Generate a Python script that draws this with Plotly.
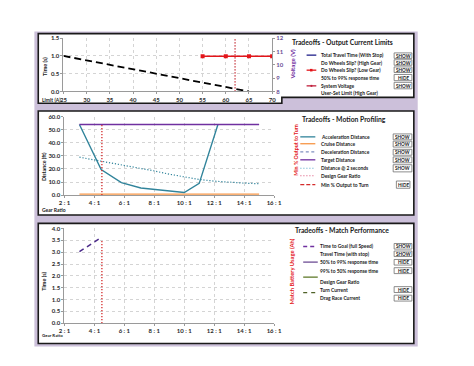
import plotly.graph_objects as go

W, H = 474, 366
def X(p): return p / W
def Y(p): return 1 - p / H

# ---------------- data ----------------
# Panel 1: Output current limits
limit_amps = [25, 45, 65]
travel_time_s = [1.0, 0.5, 0.0]
slip_limit_amps = [55, 60, 65, 70]
slip_voltage = [10.65, 10.65, 10.65, 10.65]
user_limit_amps = 62
limit_ticks = [25, 30, 35, 40, 45, 50, 55, 60, 65, 70]

# Panel 2: Motion profiling
accel_ratio = [3, 4.45, 5.8, 7.1, 10.0, 11.0, 12.25]
accel_dist = [54, 19.5, 9.5, 5.5, 2.0, 9.0, 54]
cruise_ratio = [3, 15]
cruise_dist = [0.8, 0.8]
target_ratio = [3, 15]
target_dist = [54, 54]
dist2s_ratio = [3, 4.5, 6, 8, 9, 10, 11, 12, 13, 14, 15]
dist2s = [29, 26, 23, 18.5, 16, 14, 12, 10.7, 9.8, 9.2, 8.7]
design_ratio = 4.5
gear_ticks = [2, 4, 6, 8, 10, 12, 14, 16]
gear_labels = ["2 : 1", "4 : 1", "6 : 1", "8 : 1", "10 : 1", "12 : 1", "14 : 1", "16 : 1"]

# Panel 3: Match performance
goal_ratio = [3, 4.4]
goal_time = [3.02, 3.6]

FONT = "Lato"
GRID = "#d4d4d4"
AX = "#9a9a9a"
TEAL = "#31849b"
ORANGE = "#f79646"
PURPLE = "#7030a0"
RED = "#e3151a"
LAV = "#ccc0da"
DOT = "1.2px,1.8px"

fig = go.Figure()

# Panel 1 traces
fig.add_trace(go.Scatter(x=limit_amps, y=travel_time_s, mode="lines",
                         line=dict(color="black", width=1.8, dash="7px,4px"),
                         xaxis="x", yaxis="y"))
fig.add_trace(go.Scatter(x=slip_limit_amps, y=slip_voltage, mode="lines+markers",
                         line=dict(color=RED, width=1.5),
                         marker=dict(symbol="square", size=4, color=RED),
                         xaxis="x", yaxis="y2"))
fig.add_trace(go.Scatter(x=[user_limit_amps, user_limit_amps], y=[0, 1.5], mode="lines",
                         line=dict(color="#c0202a", width=1.3, dash=DOT),
                         xaxis="x", yaxis="y"))

# Panel 2 traces
fig.add_trace(go.Scatter(x=cruise_ratio, y=cruise_dist, mode="lines",
                         line=dict(color=ORANGE, width=1.3), xaxis="x2", yaxis="y3"))
fig.add_trace(go.Scatter(x=dist2s_ratio, y=dist2s, mode="lines",
                         line=dict(color=TEAL, width=1.2, dash=DOT), xaxis="x2", yaxis="y3"))
fig.add_trace(go.Scatter(x=accel_ratio, y=accel_dist, mode="lines",
                         line=dict(color=TEAL, width=1.4), xaxis="x2", yaxis="y3"))
fig.add_trace(go.Scatter(x=target_ratio, y=target_dist, mode="lines",
                         line=dict(color=PURPLE, width=1.5), xaxis="x2", yaxis="y3"))
fig.add_trace(go.Scatter(x=[design_ratio, design_ratio], y=[0, 54], mode="lines",
                         line=dict(color="#d42a2a", width=1.3, dash=DOT), xaxis="x2", yaxis="y3"))

# Panel 3 traces
fig.add_trace(go.Scatter(x=goal_ratio, y=goal_time, mode="lines",
                         line=dict(color="#4b2a8a", width=1.5, dash="5px,4px"), xaxis="x3", yaxis="y5"))
fig.add_trace(go.Scatter(x=[design_ratio, design_ratio], y=[0, 3.5], mode="lines",
                         line=dict(color="#d42a2a", width=1.3, dash=DOT), xaxis="x3", yaxis="y5"))

tickf = dict(family=FONT, size=6, color="#2a2a2a", weight="bold")

def xax(domain, anchor, **kw):
    d = dict(domain=domain, anchor=anchor, showgrid=True, gridcolor=GRID, griddash="dot",
             gridwidth=1, showline=True, linecolor=AX, linewidth=1, ticks="outside",
             ticklen=2, tickcolor=AX, tickfont=tickf, zeroline=False, fixedrange=True)
    d.update(kw)
    return d

def yax(domain, anchor, **kw):
    d = dict(domain=domain, anchor=anchor, showgrid=True, gridcolor=GRID, griddash="dot",
             gridwidth=1, showline=True, linecolor=AX, linewidth=1, ticks="outside",
             ticklen=2, tickcolor=AX, tickfont=tickf, zeroline=False, fixedrange=True)
    d.update(kw)
    return d

x2dom = [X(52), X(268)]
fig.update_layout(
    width=W, height=H, margin=dict(l=0, r=0, t=0, b=0),
    paper_bgcolor="white", plot_bgcolor="white", showlegend=False,
    font=dict(family=FONT),
    xaxis=xax([X(51), X(266)], "y", range=[25, 70], tickvals=limit_ticks),
    yaxis=yax([Y(81), Y(26.7)], "x", range=[0, 1.5], dtick=0.5, tickformat=".1f"),
    yaxis2=dict(overlaying="y", side="right", anchor="x", range=[8, 12], dtick=1,
                showgrid=False, showline=True, linecolor=AX, ticks="outside", ticklen=2,
                tickcolor=AX, tickfont=dict(family=FONT, size=6, color="#6a4f96", weight="bold"),
                zeroline=False),
    xaxis2=xax(x2dom, "y3", range=[2, 16], tickvals=gear_ticks, ticktext=gear_labels),
    yaxis3=yax([Y(186.7), Y(106.7)], "x2", range=[0, 60], dtick=10, tickformat=".1f"),
    yaxis4=dict(overlaying="y3", side="right", anchor="x2", range=[0, 0.267],
                tickvals=[0, 0.05, 0.1, 0.15, 0.2, 0.25], tickformat=".0%",
                showgrid=False, showline=True, linecolor=AX, ticks="outside", ticklen=2,
                tickcolor=AX, tickfont=dict(family=FONT, size=6, color=RED, weight="bold"),
                zeroline=False),
    xaxis3=xax(x2dom, "y5", range=[2, 16], tickvals=gear_ticks, ticktext=gear_labels),
    yaxis5=yax([Y(317.3), Y(220.7)], "x3", range=[0, 4], dtick=0.5, tickformat=".1f"),
    yaxis6=dict(overlaying="y5", side="right", anchor="x3", range=[0, 0.6], dtick=0.1,
                tickformat=".1f", showgrid=False, showline=True, linecolor=AX, ticks="outside",
                ticklen=2, tickcolor=AX,
                tickfont=dict(family=FONT, size=6, color=RED, weight="bold"), zeroline=False),
)

shapes = []
annots = []

def prect(x0, y0, x1, y1, **kw):
    shapes.append(dict(type="rect", xref="paper", yref="paper", x0=X(x0), x1=X(x1),
                       y0=Y(y1), y1=Y(y0), layer="below", **kw))

def pline(x0, y0, x1, y1, color, width=1.3, dash="solid"):
    shapes.append(dict(type="line", xref="paper", yref="paper", x0=X(x0), x1=X(x1),
                       y0=Y(y0), y1=Y(y1), line=dict(color=color, width=width, dash=dash)))

def text(x, y, s, size=5, color="#1a1a1a", anchor="left", angle=0, bold=True):
    annots.append(dict(xref="paper", yref="paper", x=X(x), y=Y(y), text=s, showarrow=False,
                       xanchor=anchor if angle == 0 else "center",
                       yanchor="middle", textangle=angle,
                       font=dict(family=FONT, size=size, color=color,
                                 weight="bold" if bold else "normal")))

def button(x0, y0, x1, y1, label):
    shapes.append(dict(type="rect", xref="paper", yref="paper", x0=X(x0), x1=X(x1),
                       y0=Y(y1), y1=Y(y0), line=dict(color="#6f6f6f", width=0.8),
                       fillcolor="white", layer="above"))
    text((x0 + x1) / 2, (y0 + y1) / 2, label, size=4.6, anchor="center")

# backgrounds
prect(21, 20, 416, 341, fillcolor=LAV, line=dict(width=0))
# panel 1 (stepped shape)
p1 = "M{},{} L{},{} L{},{} L{},{} L{},{} L{},{} Z".format(
    X(25), Y(22), X(412), Y(22), X(412), Y(87), X(276), Y(87), X(276), Y(93), X(25), Y(93))
shapes.append(dict(type="path", xref="paper", yref="paper", path=p1, fillcolor="white",
                   line=dict(color="#1a1a1a", width=1.6), layer="below"))
prect(25, 101, 412, 207, fillcolor="white", line=dict(color="#1a1a1a", width=1.6))
prect(25, 215.5, 412, 338, fillcolor="white", line=dict(color="#1a1a1a", width=1.6))

# ---- panel 1 labels / legend ----
text(32, 56, "Time (s)", size=5.5, angle=-90)
text(287, 53, "Voltage (V)", size=6, color="#7030a0", angle=-90)
text(27, 89.5, "Limit (A)", size=5)
text(284, 30.5, "Tradeoffs - Output Current Limits", size=6.8)
rows1 = [44, 51.7, 59.3, 67.3, 75.3, 82.8]
lab1 = ["Total Travel Time (With Stop)", "Do Wheels Slip? (High Gear)", "Do Wheels Slip? (Low Gear)",
        "50% to 99% response time", "System Voltage", "User-Set Limit (High Gear)"]
for r, s in zip(rows1, lab1):
    text(314, r, s, size=4.9)
pline(301.5, rows1[0], 311.5, rows1[0], "#3d3d99", 1.5)
pline(301.5, rows1[2], 311.5, rows1[2], RED, 1.3)
prect(305, rows1[2] - 1.3, 307.6, rows1[2] + 1.3, fillcolor=RED, line=dict(width=0))
pline(301.5, rows1[4], 311.5, rows1[4], "#c0203c", 1.3)
prect(305.6, rows1[4] - 1, 307.4, rows1[4] + 1, fillcolor="#c0203c", line=dict(width=0))
for (y0, y1), lab in zip([(41.7, 47.3), (48.7, 54.3), (56, 61.7), (63.7, 70), (71.7, 78.3)],
                         ["SHOW", "SHOW", "SHOW", "HIDE", "SHOW"]):
    button(391.7, y0, 410, y1, lab)

# ---- panel 2 labels / legend ----
text(31, 158, "Distance (ft)", size=5.3, angle=-90)
text(291, 141, "Min % Output to Turn", size=5.3, color=RED, angle=-90)
text(27, 202, "Gear Ratio", size=5)
text(295, 109, "Tradeoffs - Motion Profiling", size=6.8)
rows2 = [127.3, 134.3, 142.7, 150.7, 159.3, 167, 176]
lab2 = ["Acceleration Distance", "Cruise Distance", "Deceleration Distance", "Target Distance",
        "Distance @ 2 seconds", "Design Gear Ratio", "Min % Output to Turn"]
for r, s in zip(rows2, lab2):
    text(314, r, s, size=4.9)
pline(295, rows2[0], 310.5, rows2[0], TEAL, 1.3)
pline(295, rows2[1], 310.5, rows2[1], ORANGE, 1.3)
pline(295, rows2[2], 310.5, rows2[2], "#8090c0", 1.2, "3px,2.5px")
pline(295, rows2[3], 310.5, rows2[3], PURPLE, 1.3)
pline(295, rows2[4], 310.5, rows2[4], "#6fb6d0", 1.1, DOT)
pline(295, rows2[5], 310.5, rows2[5], "#e06a8c", 1.1, DOT)
pline(295, rows2[6], 310.5, rows2[6], "#d42a2a", 1.4, "4px,2px")
for (y0, y1), lab in zip([(124.3, 130.3), (131.7, 137.7), (140, 146), (147.7, 153.7), (155.7, 163)],
                         ["SHOW"] * 5):
    button(390.7, y0, 410, y1, lab)
button(394, 172.3, 408, 179.7, "HIDE")

# ---- panel 3 labels / legend ----
text(31, 275, "Time (s)", size=5.5, angle=-90)
text(286, 265, "Match Battery Usage (Ah)", size=5.8, color=RED, angle=-90)
text(27, 330, "Gear Ratio", size=4.4)
text(288, 222.3, "Tradeoffs - Match Performance", size=6.8)
rows3 = [239, 246.7, 255, 263.7, 275, 283, 292]
lab3 = ["Time to Goal (full Speed)", "Travel Time (with stop)", "50% to 99% response time",
        "99% to 50% response time", "Design Gear Ratio", "Turn Current", "Drag Race Current"]
for r, s in zip(rows3, lab3):
    text(313.5, r, s, size=4.9)
pline(298, rows3[0], 312, rows3[0], PURPLE, 1.4, "4px,3px")
pline(298, rows3[2], 313, rows3[2], "#8064a2", 1.5)
pline(298, 270.3, 313, 270.3, "#5f7a2a", 1.3)
pline(298, 286, 313, 286, "#4f6228", 1.3, "4px,4px")
for (y0, y1), lab in zip([(236, 241.7), (243.7, 249.3), (252.3, 258), (260.7, 266.7),
                          (280, 286), (288.7, 294.7)],
                         ["SHOW", "SHOW", "HIDE", "HIDE", "HIDE", "HIDE"]):
    button(391.7, y0, 410, y1, lab)

fig.update_layout(shapes=shapes, annotations=annots)
fig.write_html("out.html")
